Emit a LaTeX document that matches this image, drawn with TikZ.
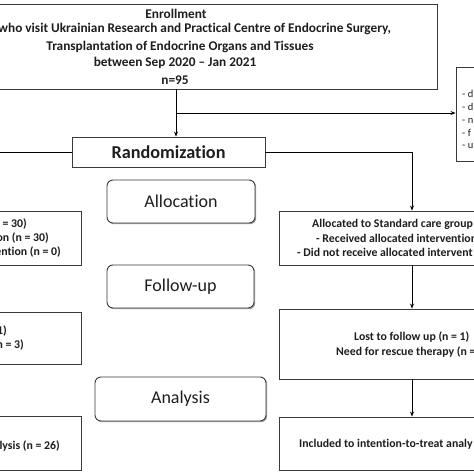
\documentclass[tikz,border=0pt]{standalone}
\usepackage{fontspec}
\setmainfont{Carlito}[Ligatures={NoCommon}]
\usetikzlibrary{shadows,arrows.meta}
\definecolor{ln}{HTML}{3A3A3A}
\definecolor{tx}{HTML}{1E1E1E}
\begin{document}
\begin{tikzpicture}[x=1pt,y=-1pt,
  box/.style={draw=ln,line width=0.9pt,fill=white,rectangle,inner sep=0},
  stage/.style={draw=ln,line width=0.9pt,fill=white,rounded corners=6pt,inner sep=0,
     drop shadow={shadow xshift=1.2pt,shadow yshift=-1.2pt,fill=black!45,opacity=0.8},
     font=\fontsize{18}{21}\selectfont,text=tx},
  et/.style={inner sep=0,font=\bfseries\fontsize{13.3}{15}\selectfont,text=tx},
  bt/.style={inner sep=0,font=\bfseries\fontsize{11.8}{14}\selectfont,text=tx},
  st/.style={inner sep=0,font=\fontsize{10.5}{12}\selectfont,text=tx},
  arr/.style={draw=black,line width=0.9pt,-{Stealth[length=5pt,width=4pt]}},
  con/.style={draw=black,line width=0.9pt}]
\useasboundingbox (0,0) rectangle (474,474);
\fill[white] (0,0) rectangle (474,474);
% enrollment
\node[box,minimum width=522pt,minimum height=85pt] (enroll) at (176,46.5) {};
\node[et] (e1) at (176,14) {Enrollment};
\node[et,anchor=west] (e2) at (-2,29) {who visit Ukrainian Research and Practical Centre of Endocrine Surgery,};
\node[et] (e3) at (180,47) {Transplantation of Endocrine Organs and Tissues};
\node[et] (e4) at (175,63) {between Sep 2020 – Jan 2021};
\node[et] (e5) at (175,80) {n=95};
% exclusion
\node[box,minimum width=34pt,minimum height=94pt] (excl) at (473,114) {};
\node[st,anchor=west] (x1) at (462,94) {- d};
\node[st,anchor=west] (x2) at (462,107) {- d};
\node[st,anchor=west] (x3) at (462,121) {- n};
\node[st,anchor=west] (x4) at (462,133) {- f};
\node[st,anchor=west] (x5) at (462,146) {- u};
% randomization
\node[box,minimum width=193pt,minimum height=30pt,font=\bfseries\fontsize{18.2}{21}\selectfont,text=tx] (rand) at (168.5,152) {Randomization};
% stages
\node[stage,minimum width=148pt,minimum height=43pt] (alloc) at (181,201.5) {Allocation};
\node[stage,minimum width=147pt,minimum height=43pt] (follow) at (180.5,286.5) {Follow-up};
\node[stage,minimum width=171pt,minimum height=44pt] (analysis) at (180.5,399) {Analysis};
% right column
\node[box,minimum width=211pt,minimum height=54pt] (allocR) at (384.5,238) {};
\node[bt,anchor=west] (aR1) at (312,224) {Allocated to Standard care group};
\node[bt,anchor=west] (aR2) at (316,238) {- Received allocated intervention};
\node[bt,anchor=west] (aR3) at (297,252) {- Did not receive allocated intervent};
\node[box,minimum width=211pt,minimum height=70pt] (lostR) at (384.5,344) {};
\node[bt,anchor=west] (lR1) at (354,337) {Lost to follow up (n = 1)};
\node[bt,anchor=west] (lR2) at (336,352) {Need for rescue therapy (n =};
\node[box,minimum width=211pt,minimum height=53pt] (inclR) at (384.5,443.5) {};
\node[bt,anchor=west] (iR1) at (299,444) {Included to intention-to-treat analy};
% left column
\node[box,minimum width=201pt,minimum height=54pt] (allocL) at (-19.5,238) {};
\node[bt,anchor=east] (aL1) at (27,224) {= 30)};
\node[bt,anchor=east] (aL2) at (49,238) {on (n = 30)};
\node[bt,anchor=east] (aL3) at (61,252) {ention (n = 0)};
\node[box,minimum width=201pt,minimum height=52pt] (lostL) at (-19.5,338) {};
\node[bt,anchor=east] (lL1) at (7,331) {1)};
\node[bt,anchor=east] (lL2) at (24,345) {n = 3)};
\node[box,minimum width=201pt,minimum height=54pt] (inclL) at (-19.5,443) {};
\node[bt,anchor=east] (iL1) at (60,446) {alysis (n = 26)};
% connectors
\coordinate (br) at (176,113);
\coordinate (lft) at (-5,152);
\coordinate (rgt) at (412,152);
\draw[arr] (enroll.south) -- (enroll.south |- rand.north);
\draw[arr] (br) -- (br -| excl.west);
\draw[con] (rand.west) -- (lft);
\draw[arr] (rand.east) -- (rgt) -- (rgt |- allocR.north);
\draw[arr] (rgt |- allocR.south) -- (rgt |- lostR.north);
\draw[arr] (rgt |- lostR.south) -- (rgt |- inclR.north);
\end{tikzpicture}
\end{document}
